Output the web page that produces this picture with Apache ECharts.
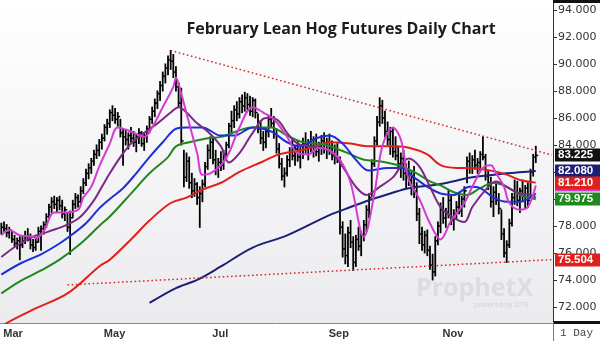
<!DOCTYPE html>
<html><head><meta charset="utf-8">
<script src="https://cdn.jsdelivr.net/npm/echarts@6/dist/echarts.min.js"></script>
<style>html,body{margin:0;padding:0;background:#fff}#c{width:600px;height:341px}</style>
</head><body><div id="c"></div>
<script>
// ---- categories (trading days) ----
const startDate = '2024-03-07', endDate = '2025-01-03';
const holidays = ['2024-03-29','2024-05-27','2024-06-19','2024-07-04','2024-09-02','2024-11-28','2024-12-25','2025-01-01'];
const monthNames = ['Jan','Feb','Mar','Apr','May','Jun','Jul','Aug','Sep','Oct','Nov','Dec'];
const labelMonths = [3,5,7,9,11];
const longTickMonths = [5,7,9,11,1];
const shortTickMonths = [4,6,8,10,12];

// ---- daily bars ----
const highs = [
78.2,78.3,78.1,77.9, 77.6,77.3,77.1,77.2, 77.3,77.6,77.8,77.4,77.0,77.1, 77.9,78.0,78.3,
78.9,79.6,80.1,80.2, 80.1,80.2,79.9,79.4, 79.0,79.1, 79.9,80.4,80.3, 80.9,81.5,82.2,82.6,
83.0,83.6,84.0,84.4, 84.8,85.5,85.9,86.6, 86.9,86.7,86.4,
85.9,85.2,85.1,84.9,85.3,85.0,84.8,85.2,85.0,84.9,
85.4,86.1,86.8,87.4,88.0,88.7,89.4,90.0,90.6,91.0,
90.7,89.8,88.6, 88.2,83.6, 83.4,83.1,81.9,81.5, 81.2,80.9, 81.4,82.7,84.0,84.6,
84.5,83.6,83.0,83.5, 83.6,84.2, 85.6,86.5,86.9,
87.2,87.5,87.7,87.9,87.8,87.6,87.5,87.4, 86.3,85.8,85.0,85.3, 86.2,86.7,86.1,
85.2,84.1,83.0,82.3, 83.2,83.8,84.4,83.9,84.3,83.8,
84.5,84.9,84.4,85.0,84.6,84.8,84.2,84.7,84.9,84.5,84.8, 84.3,84.0,84.1,
83.1,78.3, 77.4,77.9,78.4,77.2, 77.3,77.9,77.6, 78.4,79.5,80.4,
82.9,84.6,86.1,87.5, 87.3,86.5, 85.7,85.3,85.2, 84.6,83.9,83.4,83.6,
82.6,82.8,82.0,82.4, 81.2,79.3, 77.9,77.6,77.7, 76.5,75.9,77.2, 78.3,79.7,
80.1,79.3, 80.7,80.2,79.2, 79.8,80.5,80.2,80.9, 83.1,83.4,
83.2,83.6,83.0,83.5,84.6, 83.3,82.1, 81.6,80.9,81.2,80.4, 79.2,77.8,76.9,
78.5,80.4,81.4, 81.3,80.8,81.4,81.0,81.2, 82.2,83.3,83.9];
const lows = [
77.4,77.6,77.2,77.1, 76.8,76.5,76.3,75.5, 76.4,76.7,76.9,76.3,76.1,76.2, 76.8,76.2,77.4,
77.9,78.5,79.0,79.3, 79.0,79.2,78.6,78.4, 77.6,75.9, 78.6,79.3,79.4, 79.7,80.4,81.0,81.5,
81.9,82.5,83.0,83.2, 83.7,84.3,84.8,85.3, 85.8,85.6,85.4,
84.6,82.5,84.0,83.7,84.2,83.9,83.5,84.1,83.9,83.6,
84.2,84.9,85.6,86.1,86.7,87.3,88.0,88.6,89.2,89.6,
89.0,88.0,86.8, 84.0,80.9, 81.3,80.8,80.1,80.2, 79.6,77.9, 79.8,80.9,82.2,83.0,
82.6,81.8,81.6,82.1, 82.2,82.9, 83.8,84.9,85.3,
85.8,86.0,86.4,86.5,86.6,86.2,86.1,86.0, 84.9,84.1,83.6,83.8, 84.6,85.3,84.5,
83.4,82.3,81.4,80.9, 81.7,82.4,82.9,82.5,82.8,82.3,
83.0,83.4,82.9,83.5,83.1,83.2,82.8,83.3,83.4,83.0,83.3, 82.9,82.6,82.7,
77.4,75.7, 75.2,75.0,76.4,74.7, 75.0,76.2,75.8, 76.9,77.6,78.6,
80.2,82.4,84.0,85.4, 85.6,84.6, 84.0,83.3,83.1, 82.9,82.2,81.6,81.4,
80.8,81.0,80.3,80.1, 78.4,76.7, 76.2,76.0,75.8, 74.8,74.0,74.3, 76.6,77.5,
78.2,77.9, 78.6,78.1,77.7, 78.5,78.9,78.7,79.4, 81.2,81.9,
81.9,82.2,81.9,82.1,82.9, 81.4,80.7, 79.4,78.7,79.6,78.9, 77.0,75.7,75.3,
76.4,78.0,79.6, 79.5,79.0,79.8,79.3,79.4, 80.1,81.7,82.7];
const closes = [
77.9,77.8,77.5,77.7, 77.0,76.7,76.9,76.6, 76.9,77.2,77.0,76.6,76.4,76.8, 77.6,77.8,78.1,
78.7,79.4,79.8,79.6, 79.9,79.5,78.9,79.2, 77.9,78.6, 79.6,80.1,79.8, 80.6,81.2,81.9,82.3,
82.8,83.3,83.6,84.2, 84.5,85.3,85.6,86.4, 86.2,85.9,86.1,
84.9,84.6,84.4,84.7,84.5,84.2,84.6,84.9,84.1,84.7,
85.2,85.9,86.5,87.1,87.8,88.4,89.1,89.7,90.3,90.2,
89.4,88.3,87.1, 84.3,81.6, 82.8,81.2,80.6,81.1, 80.1,80.4, 81.1,82.4,83.6,84.2,
82.9,82.2,82.7,82.5, 83.3,84.0, 85.4,85.8,86.6,
86.3,87.2,86.9,87.5,87.0,86.5,87.3,86.4, 85.2,84.5,84.2,85.0, 85.9,85.6,84.8,
83.7,82.6,81.7,81.9, 82.9,83.5,83.2,83.7,83.1,83.6,
84.1,83.8,84.2,83.9,84.4,83.5,83.9,84.3,83.7,84.2,83.8, 83.2,83.7,83.0,
77.9,76.3, 75.8,77.5,76.8,75.3, 77.0,76.5,77.3, 78.1,79.2,80.1,
82.6,84.3,85.7,86.9, 86.0,85.0, 84.4,85.0,83.5, 83.2,82.6,83.0,81.9,
82.1,81.4,81.6,80.6, 78.9,77.4, 76.6,77.3,76.2, 75.1,74.6,76.9, 78.0,79.2,
78.6,79.0, 79.9,78.4,78.9, 79.4,79.1,80.0,80.6, 82.8,82.3,
82.9,82.5,82.7,83.3,83.1, 81.7,81.2, 79.8,80.5,79.9,79.3, 77.4,76.0,76.6,
78.2,80.1,80.5, 79.9,80.6,80.2,80.8,79.9, 82.0,83.1,83.225];

// ---- moving averages: [bar index, value] ----
const maMagenta = [[0,77.3],[3,77.7],[7,77.3],[12,77.2],[13,77.1],[16,77.6],[20,79.0],[24,79.0],[29,79.2],[31,80.1],[34,80.9],[37,82.4],[41,84.1],[44,85.3],[49,85.0],[54,84.6],[57,85.3],[61,86.8],[65,88.3],[66,89.0],[68,87.8],[71,85.6],[74,83.4],[76,81.8],[79,81.9],[83,82.5],[86,83.4],[90,85.3],[95,86.8],[99,86.4],[103,85.9],[108,84.6],[112,83.4],[116,83.3],[120,83.8],[124,83.6],[128,82.9],[132,81.2],[137,77.2],[141,80.4],[144,83.9],[148,85.3],[151,84.4],[154,81.4],[158,80.0],[162,78.2],[166,77.0],[170,78.4],[175,79.7],[178,80.9],[182,82.3],[185,82.5],[187,81.9],[190,80.9],[192,79.7],[196,79.2],[199,79.4],[202,81.0]];
const maPurple = [[0,75.7],[7,76.7],[12,77.2],[18,77.6],[25,78.1],[30,78.7],[35,79.9],[38,80.9],[41,81.9],[45,83.1],[49,84.1],[54,84.9],[59,85.6],[64,86.4],[67,86.8],[70,86.4],[74,85.6],[78,85.0],[83,83.9],[86,82.7],[90,83.4],[95,84.9],[100,86.0],[104,85.9],[108,84.9],[112,84.1],[117,83.9],[124,83.6],[129,82.4],[134,80.9],[138,80.3],[143,80.9],[148,81.6],[154,83.0],[158,82.4],[162,80.9],[166,79.4],[171,78.6],[175,78.3],[178,79.4],[184,80.9],[187,81.3],[191,80.9],[196,80.4],[200,80.3],[202,80.1]];
const maBlue = [[0,74.4],[7,75.2],[15,75.9],[22,76.7],[27,77.4],[32,78.2],[37,79.3],[41,80.0],[46,80.8],[51,81.9],[56,83.1],[61,84.2],[66,85.2],[70,85.3],[76,85.3],[83,84.7],[88,84.7],[95,85.3],[102,85.0],[108,84.2],[113,83.9],[119,84.5],[124,84.7],[129,84.1],[134,82.9],[139,82.1],[146,82.3],[151,82.3],[156,81.6],[161,80.9],[166,80.4],[171,80.3],[177,80.9],[181,80.8],[186,80.1],[191,79.8],[196,79.8],[200,80.1],[202,80.4]];
const maGreen = [[0,73.0],[7,73.9],[15,74.7],[22,75.5],[30,76.7],[37,78.0],[41,78.7],[49,80.4],[56,81.9],[63,83.1],[66,83.9],[71,84.2],[78,84.5],[83,84.6],[95,85.3],[102,85.3],[108,84.7],[114,84.2],[120,84.1],[124,83.9],[131,83.4],[137,82.9],[143,82.8],[150,82.5],[156,82.0],[162,81.3],[166,81.0],[171,80.5],[176,80.3],[181,80.8],[186,81.2],[191,80.9],[196,80.3],[202,79.975]];
const maRed = [[0,70.4],[2,70.8],[12,71.8],[25,73.0],[37,75.0],[41,75.5],[49,77.0],[56,78.4],[64,79.7],[70,80.1],[76,80.7],[83,81.2],[90,82.0],[98,82.7],[105,83.3],[113,83.6],[120,84.0],[124,84.2],[132,84.1],[139,83.9],[147,83.9],[154,83.8],[161,83.3],[166,82.5],[172,82.3],[178,82.3],[185,82.1],[191,81.8],[196,81.4],[202,81.21]];
const maNavy = [[56,72.3],[66,73.4],[74,74.0],[83,75.0],[95,76.4],[108,77.3],[124,78.8],[132,79.4],[139,79.9],[147,80.4],[154,80.8],[166,81.1],[178,81.6],[191,81.9],[202,82.08]];

// ---- trend lines ----
const trendUpper = [[64,91.0],[208,83.26]];
const trendLower = [[25,73.63],[208,75.504]];

// ---- build dates ----
const dates = [];
{
  let d = new Date(startDate + 'T00:00:00Z');
  const end = new Date(endDate + 'T00:00:00Z');
  while (d <= end) {
    const dw = d.getUTCDay();
    const s = d.toISOString().slice(0, 10);
    if (dw !== 0 && dw !== 6 && holidays.indexOf(s) < 0) dates.push(s);
    d.setUTCDate(d.getUTCDate() + 1);
  }
}
const mon = i => +dates[i].slice(5, 7);
const isMonthStart = i => i > 0 && mon(i) !== mon(i - 1);

const C = {
  magenta: '#d23cd2', purple: '#7a2a82', blue: '#1f2fd6', green: '#1e8a1e',
  red: '#e0201c', navy: '#1b1f78', trend: '#d42a2a'
};

const chart = echarts.init(document.getElementById('c'), null, {renderer: 'canvas'});

function renderBar(params, api) {
  const i = api.value(0);
  const h = api.coord([i, api.value(1)]);
  const l = api.coord([i, api.value(2)]);
  const c = api.coord([i, api.value(3)]);
  return {
    type: 'group',
    children: [
      {type: 'line', shape: {x1: h[0], y1: h[1] - 0.5, x2: l[0], y2: l[1] + 0.5}, style: {stroke: '#000', lineWidth: 1.8}},
      {type: 'line', shape: {x1: c[0], y1: c[1], x2: c[0] + 2.4, y2: c[1]}, style: {stroke: '#000', lineWidth: 1.5}}
    ]
  };
}

function maSeries(data, color, z) {
  return {type: 'line', data: data, symbol: 'none', smooth: 0.35, z: z,
    lineStyle: {color: color, width: 2}, silent: true};
}

const option = {
  animation: false,
  backgroundColor: '#ffffff',
  grid: {left: 0, right: 47, top: 0, bottom: 18, show: true, borderWidth: 0,
    backgroundColor: {type: 'linear', x: 0, y: 0, x2: 0, y2: 1,
      colorStops: [{offset: 0, color: '#ffffff'}, {offset: 1, color: '#ebebee'}]}},
  xAxis: [{
    type: 'category', data: dates, boundaryGap: true,
    axisLine: {lineStyle: {color: '#8c8c8c', width: 1}},
    axisTick: {interval: i => isMonthStart(i) && longTickMonths.indexOf(mon(i)) >= 0, length: 18,
      lineStyle: {color: '#9a9a9a'}},
    axisLabel: {interval: i => (i === 0 || isMonthStart(i)) && labelMonths.indexOf(mon(i)) >= 0,
      formatter: v => monthNames[+v.slice(5, 7) - 1], align: 'left', margin: 5, padding: [0, 0, 0, 2],
      color: '#333', fontFamily: 'Liberation Sans', fontWeight: 'bold', fontSize: 11},
    splitLine: {show: false}
  }, {
    type: 'category', data: dates, boundaryGap: true, position: 'bottom',
    axisLine: {show: false}, axisLabel: {show: false},
    axisTick: {interval: i => isMonthStart(i) && shortTickMonths.indexOf(mon(i)) >= 0, length: 3,
      lineStyle: {color: '#9a9a9a'}},
    splitLine: {show: false}
  }],
  yAxis: {
    type: 'value', position: 'right', min: 70.81, max: 94.74, splitNumber: 12, scale: true,
    axisLine: {show: true, lineStyle: {color: '#333'}},
    axisTick: {show: true, length: 4, lineStyle: {color: '#333'}},
    splitLine: {show: false},
    axisLabel: {showMinLabel: false, showMaxLabel: false, margin: 5, color: '#333',
      fontFamily: 'DejaVu Sans', fontSize: 11, formatter: v => v.toFixed(3)}
  },
  series: [
    {type: 'custom', renderItem: renderBar, z: 2, silent: true,
      encode: {x: 0, y: [1, 2, 3]},
      data: highs.map((h, i) => [i, h, lows[i], closes[i]])},
    maSeries(maNavy, C.navy, 3),
    maSeries(maRed, C.red, 3),
    maSeries(maGreen, C.green, 3),
    maSeries(maBlue, C.blue, 3),
    maSeries(maPurple, C.purple, 3),
    maSeries(maMagenta, C.magenta, 3),
    {type: 'line', data: trendUpper, symbol: 'none', z: 4, silent: true,
      lineStyle: {color: C.trend, width: 1.5, type: [1.6, 2.6]}},
    {type: 'line', data: trendLower, symbol: 'none', z: 4, silent: true,
      lineStyle: {color: C.trend, width: 1.5, type: [1.6, 2.6]}}
  ]
};
chart.setOption(option);

// ---- right-side value boxes ----
const boxes = [
  {v: maMagenta[maMagenta.length - 1][1], bg: C.magenta},
  {v: maNavy[maNavy.length - 1][1], bg: C.navy},
  {v: maRed[maRed.length - 1][1], bg: C.red},
  {v: maGreen[maGreen.length - 1][1], bg: C.green},
  {v: closes[closes.length - 1], bg: '#111111'},
  {v: trendLower[trendLower.length - 1][1], bg: C.red}
];
const graphics = [];
graphics.push({type: 'text', x: 341, y: 29, z: 10, style: {text: 'February Lean Hog Futures Daily Chart',
  font: 'bold 16px "Open Sans"', fill: '#1c1c1c', textAlign: 'center', textVerticalAlign: 'middle',
  align: 'center', verticalAlign: 'middle'}});
graphics.push({type: 'text', x: 416, y: 289, z: 1, style: {text: 'ProphetX', font: 'bold 25px "Open Sans"',
  fill: '#dcdde0', textVerticalAlign: 'middle', verticalAlign: 'middle'}});
graphics.push({type: 'text', x: 474, y: 305, z: 1, style: {text: 'powered by DTN', font: '7px "Open Sans"',
  fill: '#cfd0d2', textVerticalAlign: 'middle', verticalAlign: 'middle'}});
graphics.push({type: 'rect', shape: {x: 553, y: 0, width: 47, height: 3}, style: {fill: '#111'}, z: 20});
graphics.push({type: 'rect', shape: {x: 553, y: 321, width: 47, height: 3}, style: {fill: '#111'}, z: 20});
graphics.push({type: 'line', shape: {x1: 553.5, y1: 322, x2: 553.5, y2: 341}, style: {stroke: '#777', lineWidth: 1}, z: 20});
graphics.push({type: 'text', x: 560, y: 333, z: 20, style: {text: '1 Day', font: '11px "Liberation Mono"',
  fill: '#444', textVerticalAlign: 'middle', verticalAlign: 'middle'}});
boxes.forEach((b, k) => {
  const y = chart.convertToPixel({yAxisIndex: 0}, b.v);
  graphics.push({type: 'rect', z: 30 + k, shape: {x: 555, y: Math.round(y) - 6.5, width: 45, height: 13},
    style: {fill: b.bg}});
  graphics.push({type: 'text', z: 30 + k, x: 558, y: Math.round(y), style: {text: b.v.toFixed(3),
    font: 'bold 11.5px "Liberation Sans"', fill: '#fff', textVerticalAlign: 'middle', verticalAlign: 'middle'}});
});
chart.setOption({graphic: graphics});
</script>
</body></html>
